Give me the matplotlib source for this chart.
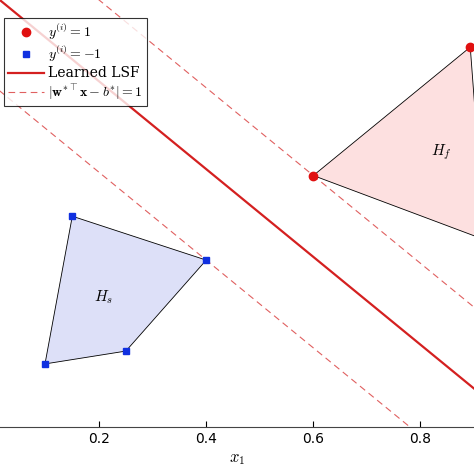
import numpy as np
import matplotlib.pyplot as plt

plt.rcParams['mathtext.fontset'] = 'cm'

# class samples
pos_x = [0.6, 0.893, 0.92]
pos_y = [0.47, 0.71, 0.35]
neg_x = [0.15, 0.4, 0.25, 0.099]
neg_y = [0.394, 0.312, 0.142, 0.118]

# separating line y = c - slope*x and margins
slope = 0.82
c_mid = 0.81
c_lo = 0.64
c_hi = 0.962

fig = plt.figure(figsize=(4.74, 4.74), dpi=100)
ax = fig.add_axes([0, 0.099, 1, 0.901])

ax.fill(pos_x, pos_y, facecolor='#fde0e0', edgecolor='k', lw=0.6)
ax.fill(neg_x, neg_y, facecolor='#dde0f8', edgecolor='k', lw=0.6)

xs = np.array([-0.1, 1.1])
ax.plot(xs, c_mid - slope * xs, color='#d42020', lw=1.6, label='Learned LSF')
ax.plot(xs, c_lo - slope * xs, color='#e06060', lw=0.8, ls=(0, (6, 4)),
        label=r'$|\mathbf{w}^{*\top}\mathbf{x}-b^{*}|=1$')
ax.plot(xs, c_hi - slope * xs, color='#e06060', lw=0.8, ls=(0, (6, 4)))

ax.plot(pos_x, pos_y, 'o', color='#e01010', ms=6, ls='none', label=r'$y^{(i)}=1$')
ax.plot(neg_x, neg_y, 's', color='#1030e0', ms=5, ls='none', label=r'$y^{(i)}=-1$')

ax.text(0.82, 0.508, r'$H_f$', fontsize=11)
ax.text(0.19, 0.235, r'$H_s$', fontsize=11)

ax.set_xlim(0.015, 0.90)
ax.set_ylim(0, 0.798)
ax.set_xticks([0.2, 0.4, 0.6, 0.8])
ax.set_yticks([])
ax.tick_params(axis='x', direction='in', length=4, labelsize=10)
for s in ['top', 'right', 'left']:
    ax.spines[s].set_visible(False)
ax.spines['bottom'].set_color('#444444')
ax.set_xlabel(r'$x_1$', fontsize=12, labelpad=2)

h, l = ax.get_legend_handles_labels()
order = [2, 3, 0, 1]
leg = ax.legend([h[i] for i in order], [l[i] for i in order], loc='upper left',
                bbox_to_anchor=(0.008, 0.962), bbox_transform=fig.transFigure,
                fancybox=False, edgecolor='k', borderaxespad=0,
                prop={'family': 'DejaVu Serif', 'size': 10},
                handlelength=2.6, labelspacing=0.15, borderpad=0.3, handletextpad=0.3)
leg.get_frame().set_linewidth(0.8)

fig.savefig('out.png', dpi=100)
